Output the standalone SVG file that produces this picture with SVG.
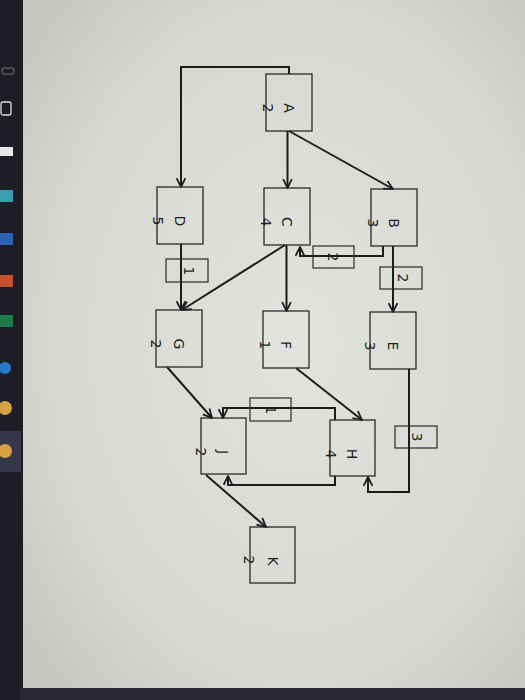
<svg xmlns="http://www.w3.org/2000/svg" width="525" height="700" viewBox="0 0 525 700">
<defs>
<radialGradient id="scr" cx="0.55" cy="0.5" r="0.7">
<stop offset="0" stop-color="#e1e3df"/>
<stop offset="0.7" stop-color="#d7d8d3"/>
<stop offset="1" stop-color="#c6c6c0"/>
</radialGradient>
<marker id="ah" viewBox="0 0 10 10" refX="9" refY="5" markerWidth="11" markerHeight="11" markerUnits="userSpaceOnUse" orient="auto">
<path d="M1,1 L9,5 L1,9" fill="none" stroke="#1c1c1c" stroke-width="1.6"/>
</marker>
<style>
.node rect{fill:none;stroke:#2a2a2a;stroke-width:1.3}
.lbl rect{fill:none;stroke:#2a2a2a;stroke-width:1.2}
text{font-family:"DejaVu Sans",sans-serif;font-size:14px;fill:#1e1e1e;text-anchor:middle;dominant-baseline:central}
.edge{fill:none;stroke:#1c1c1c;stroke-width:2;marker-end:url(#ah)}
</style>
</defs>
<rect x="0" y="0" width="525" height="700" fill="#1d1d26"/>
<rect x="23" y="0" width="502" height="688" fill="url(#scr)"/>
<rect x="20" y="688" width="505" height="12" fill="#2a2830"/>
<g id="taskbar">
<rect x="2" y="68" width="12" height="6" rx="2" fill="none" stroke="#777" stroke-width="1"/>
<rect x="1" y="102" width="10" height="13" rx="2" fill="none" stroke="#ddd" stroke-width="1.3"/>
<rect x="0" y="147" width="13" height="9" fill="#e8e8e8"/>
<rect x="0" y="190" width="13" height="12" fill="#3aa0b0"/>
<rect x="0" y="233" width="13" height="12" fill="#2b64b4"/>
<rect x="0" y="275" width="13" height="12" fill="#c8502e"/>
<rect x="0" y="315" width="13" height="12" fill="#1f7a4a"/>
<circle cx="5" cy="368" r="6" fill="#2a78c8"/>
<rect x="0" y="431" width="21" height="41" fill="#34364a"/>
<circle cx="5" cy="408" r="7" fill="#d8a040"/>
<circle cx="5" cy="451" r="7" fill="#d8a040"/>
</g>
<g id="connectors">
<path class="edge" d="M289,74 V67 H181 V187"/>
<path class="edge" d="M287.5,131 V188"/>
<path class="edge" d="M289,131 L393,189"/>
<path class="edge" d="M383,246 V256 H300 V247"/>
<path class="edge" d="M393,246 V312"/>
<path class="edge" d="M286.5,245 V311"/>
<path class="edge" d="M285,245 L182,310"/>
<path class="edge" d="M181,244 V310"/>
<path class="edge" d="M167,367 L212,418"/>
<path class="edge" d="M296,368 L362,420"/>
<path class="edge" d="M335,420 V408 H223 V418"/>
<path class="edge" d="M335,476 V485 H228 V476"/>
<path class="edge" d="M409,369 V492 H368 V477"/>
<path class="edge" d="M206,475 L266,527"/>
</g>
<g id="w-DG" class="lbl"><rect x="166" y="259" width="42" height="23"/><text transform="translate(189,271) rotate(90)">1</text></g>
<g id="w-BC" class="lbl"><rect x="313" y="246" width="41" height="22"/><text transform="translate(333,257) rotate(90)">2</text></g>
<g id="w-BE" class="lbl"><rect x="380" y="267" width="42" height="22"/><text transform="translate(403,278) rotate(90)">2</text></g>
<g id="w-HJ" class="lbl"><rect x="250" y="398" width="41" height="23"/><text transform="translate(271,410) rotate(90)">1</text></g>
<g id="w-EH" class="lbl"><rect x="395" y="426" width="42" height="22"/><text transform="translate(417,437) rotate(90)">3</text></g>
<g id="A" class="node"><rect x="266" y="74" width="46" height="57"/><text transform="translate(289,108) rotate(90)">A</text><text transform="translate(268,108) rotate(90)">2</text></g>
<g id="B" class="node"><rect x="371" y="189" width="46" height="57"/><text transform="translate(394,223) rotate(90)">B</text><text transform="translate(373,223) rotate(90)">3</text></g>
<g id="C" class="node"><rect x="264" y="188" width="46" height="57"/><text transform="translate(287,222) rotate(90)">C</text><text transform="translate(266,222) rotate(90)">4</text></g>
<g id="D" class="node"><rect x="157" y="187" width="46" height="57"/><text transform="translate(180,221) rotate(90)">D</text><text transform="translate(158,221) rotate(90)">5</text></g>
<g id="E" class="node"><rect x="370" y="312" width="46" height="57"/><text transform="translate(393,346) rotate(90)">E</text><text transform="translate(370,346) rotate(90)">3</text></g>
<g id="F" class="node"><rect x="263" y="311" width="46" height="57"/><text transform="translate(286,345) rotate(90)">F</text><text transform="translate(265,345) rotate(90)">1</text></g>
<g id="G" class="node"><rect x="156" y="310" width="46" height="57"/><text transform="translate(179,344) rotate(90)">G</text><text transform="translate(156,344) rotate(90)">2</text></g>
<g id="H" class="node"><rect x="330" y="420" width="45" height="56"/><text transform="translate(352,454) rotate(90)">H</text><text transform="translate(331,454) rotate(90)">4</text></g>
<g id="J" class="node"><rect x="201" y="418" width="45" height="56"/><text transform="translate(223,452) rotate(90)">J</text><text transform="translate(201,452) rotate(90)">2</text></g>
<g id="K" class="node"><rect x="250" y="527" width="45" height="56"/><text transform="translate(273,561) rotate(90)">K</text><text transform="translate(249,560) rotate(90)">2</text></g>
</svg>
